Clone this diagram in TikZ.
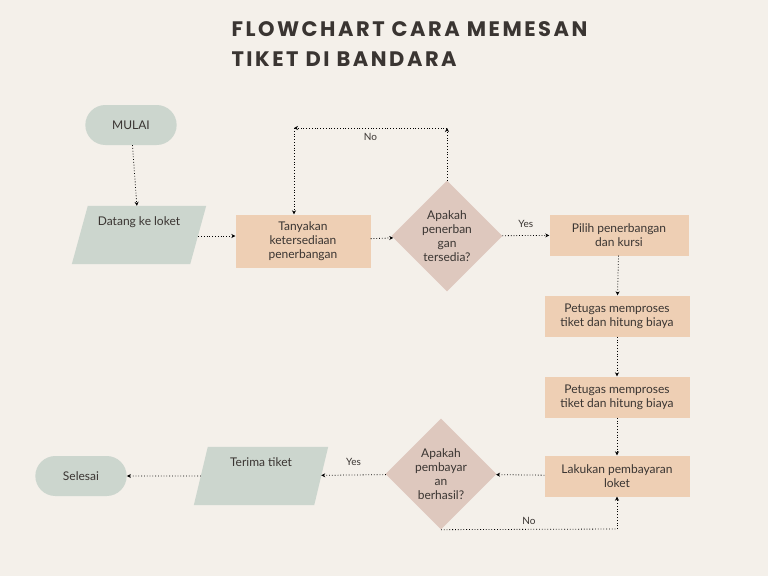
\documentclass[tikz,border=0pt]{standalone}
\usepackage{fontspec}
\setmainfont{Lato}
\newfontfamily\titlefont[LetterSpace=12]{Poppins}
\usetikzlibrary{shapes.geometric,shapes.misc,arrows.meta,backgrounds}
\definecolor{bgcol}{HTML}{F4F0EA}
\definecolor{greencol}{HTML}{CCD6CE}
\definecolor{peachcol}{HTML}{EECFB4}
\definecolor{rosecol}{HTML}{DEC8BE}
\definecolor{inkcol}{HTML}{3A3532}

\begin{document}
\begin{tikzpicture}[x=1pt, y=-1pt,
    every node/.style={text=inkcol, font=\fontsize{12}{14}\selectfont, align=center},
    terminal/.style={rounded rectangle, fill=greencol, minimum width=98pt, minimum height=40pt},
    io/.style={rectangle, minimum width=118pt, minimum height=58pt, inner sep=2pt},
    process/.style={rectangle, fill=peachcol, minimum width=145pt, minimum height=41pt, inner sep=2pt},
    decision/.style={diamond, fill=rosecol, minimum width=104pt, minimum height=106pt,
        inner sep=0pt, text width=60pt},
    flow/.style={thick, dotted, -{Stealth[length=4pt,width=4pt]}},
    lbl/.style={font=\fontsize{10}{12}\selectfont}
]
    \useasboundingbox (0,0) rectangle (768,576);
    \node[anchor=west, align=left, font=\titlefont\bfseries\fontsize{21}{30}\selectfont] (title) at (228,44)
        {FLOWCHART CARA MEMESAN\\TIKET DI BANDARA};

    \node[terminal] (mulai) at (131,125) {MULAI};
    \node[io] (datang) at (139,235) {Datang ke loket\\[14pt]};
    \node[process, minimum width=135pt, minimum height=53pt] (tanya) at (303,241)
        {Tanyakan\\ketersediaan\\penerbangan};
    \node[decision] (cek) at (447,236) {Apakah\\penerban\\gan\\tersedia?};
    \node[process, minimum width=139pt] (pilih) at (619,235) {Pilih penerbangan\\dan kursi};
    \node[process] (proses1) at (617,316) {Petugas memproses\\tiket dan hitung biaya};
    \node[process] (proses2) at (617,397) {Petugas memproses\\tiket dan hitung biaya};
    \node[process] (bayar) at (617,476) {Lakukan pembayaran\\loket};
    \node[decision] (cekbayar) at (441,474) {Apakah\\pembayar\\an\\berhasil?};
    \node[io, minimum width=120pt] (terima) at (261,476) {Terima tiket\\[14pt]};
    \node[terminal] (selesai) at (81,476) {Selesai};

    \begin{scope}[on background layer]
        \fill[bgcol] (0,0) rectangle (768,576);
        \fill[greencol] ([xshift=8pt]datang.north west) -- ([xshift=8pt]datang.north east)
            -- ([xshift=-8pt]datang.south east) -- ([xshift=-8pt]datang.south west) -- cycle;
        \fill[greencol] ([xshift=7pt]terima.north west) -- ([xshift=7pt]terima.north east)
            -- ([xshift=-7pt]terima.south east) -- ([xshift=-7pt]terima.south west) -- cycle;
    \end{scope}

    \coordinate (noatas) at (447,128);
    \coordinate (nokiri) at (294,128);
    \coordinate (nokanan) at (617,529);

    \draw[flow] (mulai) -- (datang);
    \draw[flow] (datang.east |- 0,236) -- (tanya.west |- 0,236);
    \draw[flow] (tanya) -- (cek);
    \draw[flow] (cek.north) -- (noatas);
    \draw[flow] (noatas) -- (nokiri) node[lbl, midway, below=2pt] {No};
    \draw[flow] (nokiri) -- (tanya.north -| nokiri);
    \draw[flow] (cek) -- (pilih) node[lbl, midway, above=4pt] {Yes};
    \draw[flow] (pilih) -- (proses1);
    \draw[flow] (proses1) -- (proses2);
    \draw[flow] (proses2) -- (bayar);
    \draw[flow] (bayar) -- (cekbayar);
    \draw[flow] (cekbayar) -- (terima) node[lbl, midway, above=6pt] {Yes};
    \draw[flow] (terima) -- (selesai);
    \draw[thick, dotted] (cekbayar.south) -- (nokanan) node[lbl, midway, above=1pt] {No};
    \draw[flow] (nokanan) -- (bayar.south);
\end{tikzpicture}
\end{document}
